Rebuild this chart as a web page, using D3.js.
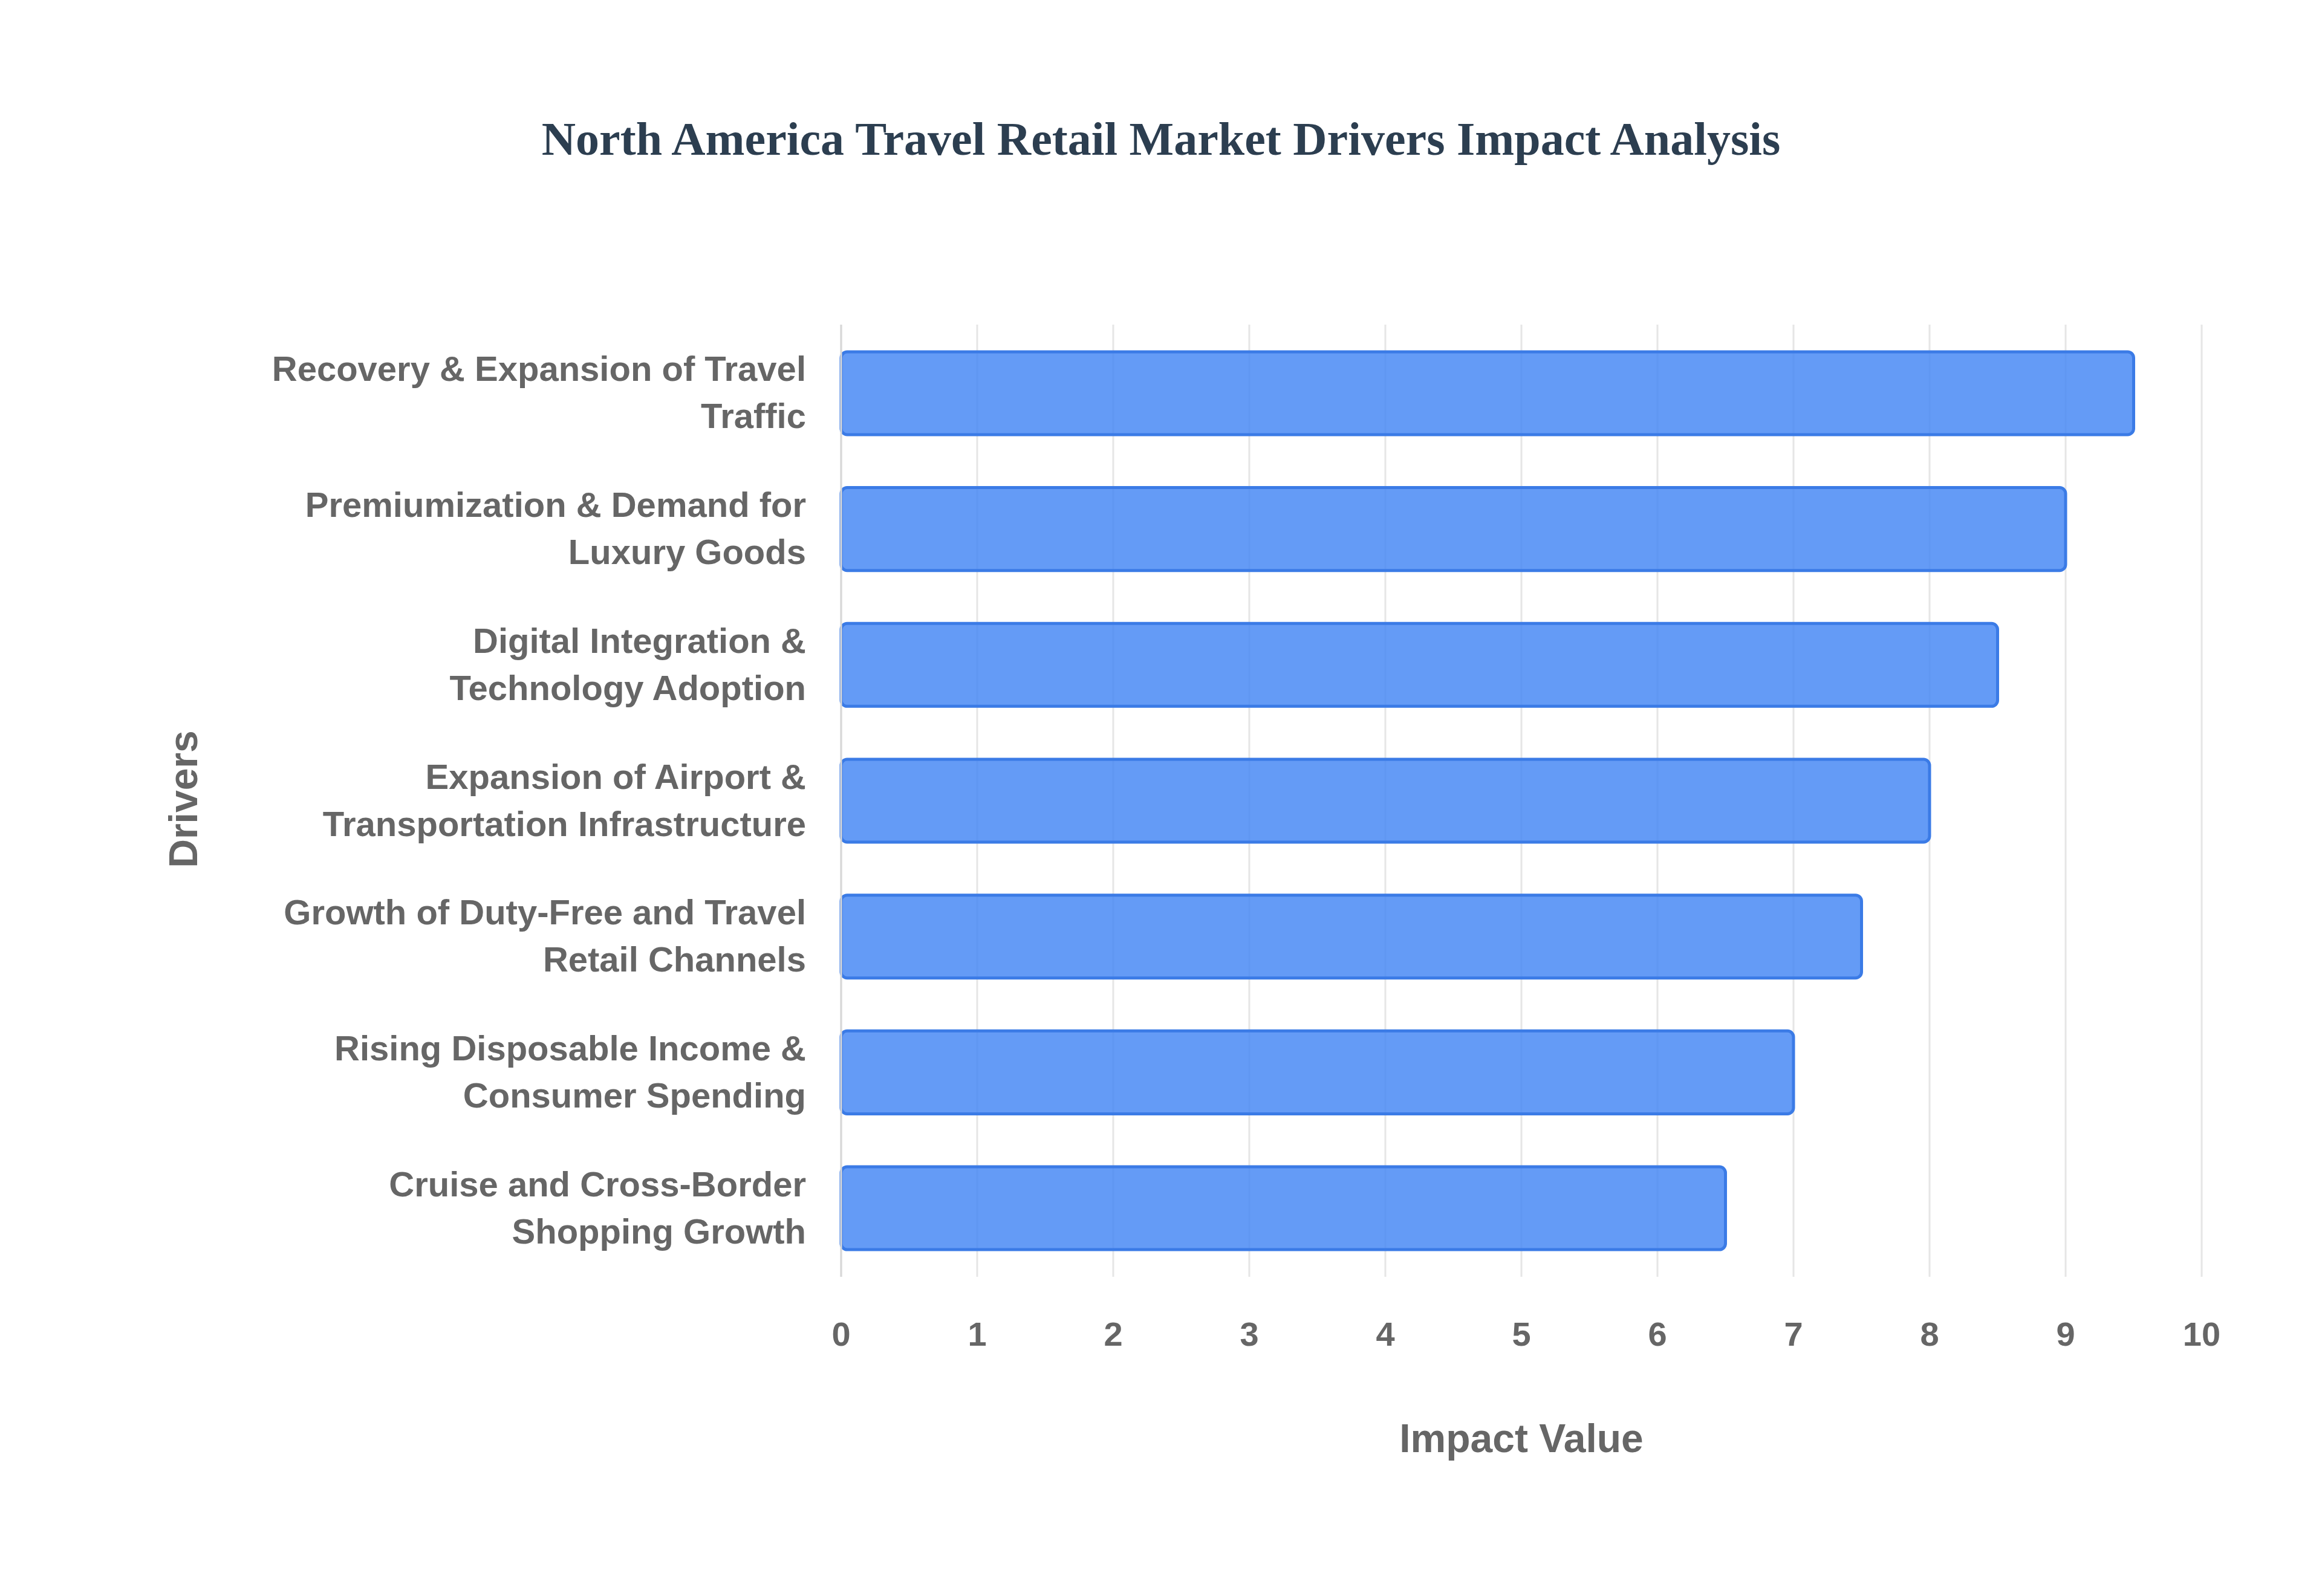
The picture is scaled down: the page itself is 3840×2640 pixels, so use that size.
<!DOCTYPE html>
<html><head><meta charset="utf-8">
<script src="https://cdn.jsdelivr.net/npm/d3@7"></script>
<style>body{margin:0;background:#fff}</style></head>
<body><svg id="c" width="3840" height="2640"></svg>
<script>
const categories=[["Recovery & Expansion of Travel","Traffic"],["Premiumization & Demand for","Luxury Goods"],["Digital Integration &","Technology Adoption"],["Expansion of Airport &","Transportation Infrastructure"],["Growth of Duty-Free and Travel","Retail Channels"],["Rising Disposable Income &","Consumer Spending"],["Cruise and Cross-Border","Shopping Growth"]];
const values=[9.5,9,8.5,8,7.5,7,6.5];
const ticks=[0,1,2,3,4,5,6,7,8,9,10];
const svg=d3.select("#c");
const L=1391,R=3641,T=537,B=2112;
const x=d3.scaleLinear().domain([0,10]).range([L,R]);
const y=d3.scaleBand().domain(d3.range(categories.length)).range([T,B]).paddingInner(0.39).paddingOuter(0.2);
const g=svg.append("g");
g.selectAll(".gl").data(ticks).join("line").attr("x1",d=>x(d)).attr("x2",d=>x(d)).attr("y1",T).attr("y2",B).attr("stroke","#e6e6e6").attr("stroke-width",3);
g.selectAll("rect").data(values).join("rect").attr("x",x(0)).attr("y",(d,i)=>y(i)).attr("width",d=>x(d)-x(0)).attr("height",y.bandwidth()).attr("rx",10).attr("fill","rgba(66,133,244,0.82)").attr("stroke","#3b7be6").attr("stroke-width",5);
g.append("line").attr("x1",L).attr("x2",L).attr("y1",T).attr("y2",B).attr("stroke","#d8d8d8").attr("stroke-width",3);
g.selectAll(".tk").data(ticks).join("text").attr("x",d=>x(d)).attr("y",2226).attr("text-anchor","middle").attr("font-family","Liberation Sans, Arial").attr("font-weight","bold").attr("font-size",56).attr("fill","#666").text(d=>d);
categories.forEach((c,i)=>{const cy=y(i)+y.bandwidth()/2;
 c.forEach((t,j)=>g.append("text").attr("x",1333).attr("y",cy-40+j*78+20).attr("text-anchor","end").attr("font-family","Liberation Sans, Arial").attr("font-weight","bold").attr("font-size",58).attr("fill","#666").text(t));});
svg.append("text").attr("x",1920).attr("y",256).attr("text-anchor","middle").attr("font-family","Liberation Serif, Times New Roman").attr("font-weight","bold").attr("font-size",78).attr("fill","#2c3e50").text("North America Travel Retail Market Drivers Impact Analysis");
svg.append("text").attr("x",2516).attr("y",2402).attr("text-anchor","middle").attr("font-family","Liberation Sans, Arial").attr("font-weight","bold").attr("font-size",66).attr("fill","#666").text("Impact Value");
svg.append("text").attr("transform","translate(326,1322) rotate(-90)").attr("text-anchor","middle").attr("font-family","Liberation Sans, Arial").attr("font-weight","bold").attr("font-size",66).attr("fill","#666").text("Drivers");
</script></body></html>
